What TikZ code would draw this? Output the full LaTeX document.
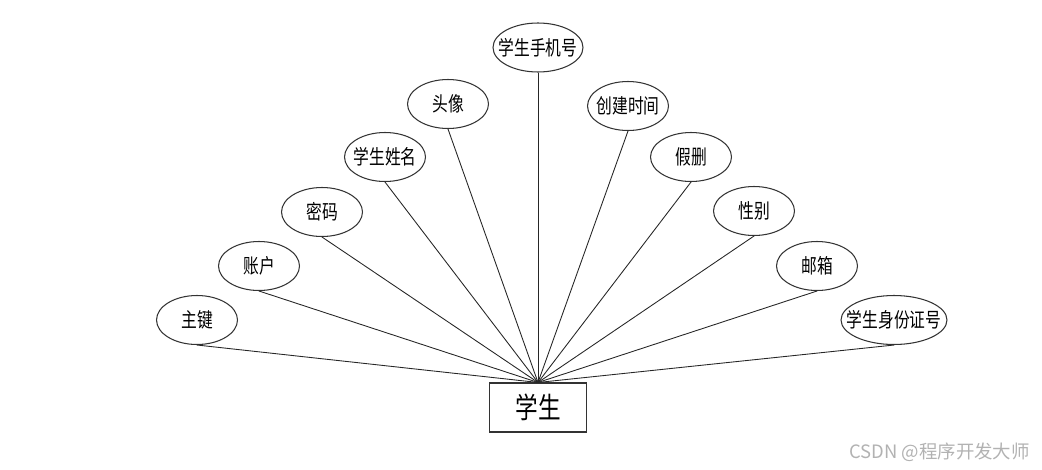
\documentclass[tikz,border=0pt]{standalone}
\usepackage{fontspec}
\setmainfont{Noto Sans CJK SC}
\usepackage{tikz}
\usetikzlibrary{shapes.geometric}

\newcommand{\attrlabel}[1]{\makebox[0pt]{\scalebox{0.78}[1]{#1}}}

\begin{document}
\begin{tikzpicture}[x=0.02cm, y=-0.02cm,
		attr/.style={draw=black!80, line width=0.6pt, ellipse, inner sep=0pt, minimum width=1.62cm, minimum height=0.98cm, font=\fontsize{11.5}{13}\selectfont},
		entity/.style={draw=black!80, line width=0.6pt, rectangle, minimum width=1.94cm, minimum height=0.98cm, font=\fontsize{16.5}{19}\selectfont},
		link/.style={black!85, line width=0.5pt}]
			\useasboundingbox (0,0) rectangle (1042,470);
			\node[entity] (xs) at (538,407.5) {\attrlabel{学生}};
			
			\node[attr] (zj) at (197,320) {\attrlabel{主键}};
			\node[attr] (zh) at (259,266) {\attrlabel{账户}};
			\node[attr] (mm) at (322,212) {\attrlabel{密码}};
			\node[attr] (xm) at (385,157) {\attrlabel{学生姓名}};
			\node[attr] (tx) at (448,104) {\attrlabel{头像}};
			\node[attr, minimum width=1.8cm] (sjh) at (538,47.5) {\attrlabel{学生手机号}};
			\node[attr] (cjsj) at (628,106) {\attrlabel{创建时间}};
			\node[attr] (js) at (691,157) {\attrlabel{假删}};
			\node[attr] (xb) at (754,211) {\attrlabel{性别}};
			\node[attr] (yx) at (817,266) {\attrlabel{邮箱}};
			\node[attr, minimum width=2.12cm] (sfz) at (894,320) {\attrlabel{学生身份证号}};
			
			\foreach \a in {zj,zh,mm,xm,tx,sjh,cjsj,js,xb,yx,sfz}
				\draw[link] (\a.south) to (xs.north);
			
			\node[anchor=east, text=black!30, font=\fontsize{10.5}{12}\selectfont] (wm) at (1036,452) {CSDN @程序开发大师};
		\end{tikzpicture}
\end{document}
